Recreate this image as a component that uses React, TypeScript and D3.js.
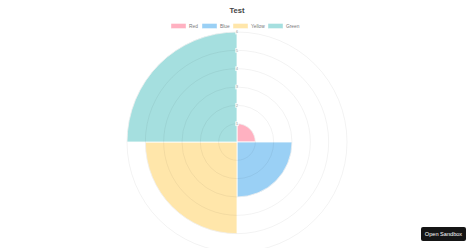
import React from "react";
import * as d3 from "d3";

const categories = ["Red", "Blue", "Yellow", "Green"];
const values = [1, 3, 5, 6];
const colors = [
  "rgba(255,99,132,0.5)",
  "rgba(54,162,235,0.5)",
  "rgba(255,206,86,0.5)",
  "rgba(75,192,192,0.5)",
];
const tickValues = [1, 2, 3, 4, 5, 6];
const legendX = [171, 202, 233, 268];

export default function App() {
  const W = 474;
  const H = 248;
  const cx = 237;
  const cy = 142;
  const r = d3.scaleLinear().domain([0, 6]).range([0, 110]);
  const n = categories.length;
  const step = (2 * Math.PI) / n;
  const arc = d3.arc<any>();
  const font = "'Liberation Sans', Arial, Helvetica, sans-serif";

  return (
    <svg
      width={W}
      height={H}
      style={{ position: "absolute", left: 0, top: 0, background: "#fff" }}
    >
      <text x={cx} y={13} textAnchor="middle" fontFamily={font} fontSize={7.6} fontWeight="bold" fill="#444">
        Test
      </text>
      {categories.map((c, i) => (
        <g key={c}>
          <rect x={legendX[i]} y={23.5} width={15} height={5} fill={colors[i]} stroke="#fff" strokeWidth={0.4} />
          <text x={legendX[i] + 18} y={27.8} fontFamily={font} fontSize={4.8} fill="#777">
            {c}
          </text>
        </g>
      ))}
      <g transform={`translate(${cx},${cy})`}>
        {values.map((v, i) => (
          <path
            key={i}
            d={arc({ innerRadius: 0, outerRadius: r(v), startAngle: i * step, endAngle: (i + 1) * step }) as string}
            fill={colors[i]}
            stroke="#fff"
            strokeWidth={0.8}
          />
        ))}
        {tickValues.map((t) => (
          <circle key={t} r={r(t)} fill="none" stroke="rgba(0,0,0,0.1)" strokeWidth={0.5} />
        ))}
        {tickValues.map((t) => (
          <g key={"l" + t} transform={`translate(0,${-r(t)})`}>
            <rect x={-1.8} y={-2.4} width={3.6} height={4.8} fill="rgba(255,255,255,0.75)" />
            <text y={1.3} textAnchor="middle" fontFamily={font} fontSize={3.8} fill="#999">
              {t}
            </text>
          </g>
        ))}
      </g>
      <rect x={421} y={227} width={45} height={14} rx={2} fill="#151515" />
      <text x={443.5} y={236.2} textAnchor="middle" fontFamily={font} fontSize={5.6} fill="#fff">
        Open Sandbox
      </text>
    </svg>
  );
}
